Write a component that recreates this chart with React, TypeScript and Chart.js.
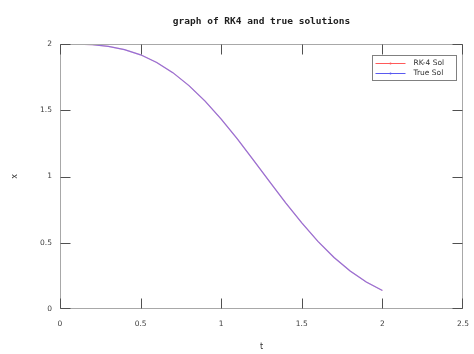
import React, { useEffect, useRef } from 'react';
import { Chart, registerables } from 'chart.js';

Chart.register(...registerables);

const titleText = 'graph of RK4 and true solutions';
const xLabel = 't';
const yLabel = 'x';
const seriesLabels = ['RK-4 Sol', 'True Sol'];

const tValues = [0, 0.1, 0.2, 0.3, 0.4, 0.5, 0.6, 0.7, 0.8, 0.9, 1.0, 1.1, 1.2, 1.3, 1.4, 1.5, 1.6, 1.7, 1.8, 1.9, 2.0];
const rk4Values = [2, 1.99933, 1.99467, 1.98208, 1.95779, 1.91838, 1.86106, 1.78392, 1.68621, 1.56854, 1.43306, 1.28335, 1.12428, 0.96156, 0.80131, 0.6493, 0.51061, 0.3889, 0.2863, 0.20329, 0.13897];
const trueValues = [2, 1.99933, 1.99467, 1.98208, 1.95779, 1.91838, 1.86106, 1.78392, 1.68621, 1.56854, 1.43306, 1.28335, 1.12428, 0.96156, 0.80131, 0.6493, 0.51061, 0.3889, 0.2863, 0.20329, 0.13897];
const xTicks = [0, 0.5, 1, 1.5, 2, 2.5];
const yTicks = [0, 0.5, 1, 1.5, 2];

const seriesColors = ['rgba(255,100,100,0.55)', 'rgba(90,80,240,0.65)'];
const legendColors = ['rgb(255,90,90)', 'rgb(90,90,240)'];

const LABEL_FONT = 'DejaVu Sans';

const framePlugin = {
  id: 'frameTicks',
  afterDatasetsDraw(chart: any) {
    const { ctx, chartArea, scales } = chart;
    const l = Math.round(chartArea.left) + 0.5;
    const r = Math.round(chartArea.right) - 0.5;
    const t = Math.round(chartArea.top) + 0.5;
    const b = Math.round(chartArea.bottom) - 0.5;
    ctx.save();
    ctx.lineWidth = 1;
    ctx.strokeStyle = '#a8a8a8';
    ctx.strokeRect(l, t, r - l, b - t);
    ctx.strokeStyle = '#505050';
    const len = 10;
    ctx.beginPath();
    xTicks.forEach((v) => {
      const px = Math.round(scales.x.getPixelForValue(v)) + (v === xTicks[xTicks.length - 1] ? -0.5 : 0.5);
      ctx.moveTo(px, b);
      ctx.lineTo(px, b - len);
      ctx.moveTo(px, t);
      ctx.lineTo(px, t + len);
    });
    yTicks.forEach((v) => {
      const py = Math.round(scales.y.getPixelForValue(v)) + (v === yTicks[0] ? -0.5 : 0.5);
      ctx.moveTo(l, py);
      ctx.lineTo(l + len, py);
      ctx.moveTo(r, py);
      ctx.lineTo(r - len, py);
    });
    ctx.stroke();
    ctx.restore();
  },
  afterDraw(chart: any) {
    const { ctx, chartArea } = chart;
    // title, centred over the plot area
    ctx.save();
    ctx.fillStyle = '#202020';
    ctx.font = 'bold 9.5px "DejaVu Sans Mono"';
    ctx.textAlign = 'center';
    ctx.textBaseline = 'middle';
    ctx.fillText(titleText, (chartArea.left + chartArea.right) / 2, 22);
    ctx.restore();

    const bx = Math.round(chartArea.right) - 91 + 0.5;
    const by = Math.round(chartArea.top) + 11 + 0.5;
    const bw = 84;
    const bh = 25;
    ctx.save();
    ctx.fillStyle = '#ffffff';
    ctx.fillRect(bx, by, bw, bh);
    ctx.strokeStyle = '#808080';
    ctx.lineWidth = 1;
    ctx.strokeRect(bx, by, bw, bh);
    chart.data.datasets.forEach((ds: any, i: number) => {
      const yy = Math.round(by + 7 + i * 10) + 0.5;
      ctx.strokeStyle = ds.backgroundColor;
      ctx.beginPath();
      ctx.moveTo(bx + 3, yy);
      ctx.lineTo(bx + 33, yy);
      ctx.stroke();
      ctx.fillStyle = ds.backgroundColor;
      ctx.beginPath();
      ctx.arc(bx + 18, yy, 1, 0, Math.PI * 2);
      ctx.fill();
      ctx.fillStyle = '#303030';
      ctx.font = `7.5px "${LABEL_FONT}"`;
      ctx.textBaseline = 'middle';
      ctx.textAlign = 'left';
      ctx.fillText(ds.label, bx + 41, yy);
    });
    ctx.restore();
  },
};

export default function App() {
  const ref = useRef<HTMLCanvasElement | null>(null);
  useEffect(() => {
    if (!ref.current) return;
    const datasets = [rk4Values, trueValues].map((vals, i) => ({
      label: seriesLabels[i],
      data: tValues.map((tv, k) => ({ x: tv, y: vals[k] })),
      borderColor: seriesColors[i],
      backgroundColor: legendColors[i],
      borderWidth: 1.2,
      pointRadius: 0,
      tension: 0,
      fill: false,
      order: 2 - i,
    }));
    const tickFont = { family: LABEL_FONT, size: 7.5 };
    const chart = new Chart(ref.current, {
      type: 'line',
      data: { datasets },
      plugins: [framePlugin],
      options: {
        animation: false,
        responsive: false,
        maintainAspectRatio: false,
        layout: { padding: { top: 44, right: 11, bottom: 0, left: 0 } },
        plugins: {
          legend: { display: false },
          tooltip: { enabled: false },
          title: { display: false },
        },
        scales: {
          x: {
            type: 'linear',
            min: 0,
            max: 2.5,
            afterBuildTicks: (s: any) => {
              s.ticks = xTicks.map((v) => ({ value: v }));
            },
            afterFit: (s: any) => {
              s.height = 45;
              s.paddingLeft = 0;
              s.paddingRight = 0;
            },
            grid: { display: false, drawTicks: false },
            border: { display: false },
            ticks: {
              font: tickFont,
              color: '#404040',
              padding: 11,
              maxRotation: 0,
              autoSkip: false,
              callback: (v: any) => String(v),
            },
            title: {
              display: true,
              text: xLabel,
              color: '#303030',
              font: { family: LABEL_FONT, size: 8, lineHeight: 1.2 },
              padding: { top: 0, bottom: 2 },
            },
          },
          y: {
            type: 'linear',
            min: 0,
            max: 2,
            afterBuildTicks: (s: any) => {
              s.ticks = yTicks.map((v) => ({ value: v }));
            },
            afterFit: (s: any) => {
              s.width = 60;
              s.paddingTop = 0;
              s.paddingBottom = 0;
            },
            grid: { display: false, drawTicks: false },
            border: { display: false },
            ticks: {
              font: tickFont,
              color: '#404040',
              padding: 8,
              autoSkip: false,
              callback: (v: any) => String(v),
            },
            title: {
              display: true,
              text: yLabel,
              color: '#303030',
              font: { family: LABEL_FONT, size: 8, lineHeight: 1.2 },
              padding: { top: 10, bottom: 0 },
            },
          },
        },
      },
    } as any);
    return () => chart.destroy();
  }, []);
  return (
    <div style={{ position: 'fixed', left: 0, top: 0, width: 474, height: 354, background: '#fff' }}>
      <canvas ref={ref} width={474} height={354} style={{ width: 474, height: 354, display: 'block' }} />
    </div>
  );
}
